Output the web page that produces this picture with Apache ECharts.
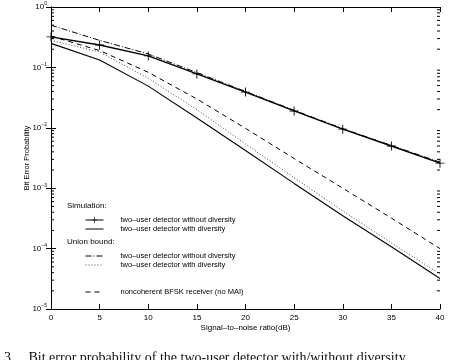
<!DOCTYPE html>
<html>
<head>
<meta charset="utf-8">
<script src="https://cdn.jsdelivr.net/npm/echarts@6/dist/echarts.min.js"></script>
<style>html,body{margin:0;padding:0;background:#fff;}#c{width:474px;height:360px;}</style>
</head>
<body>
<div id="c"></div>
<script>
// ---- data ----
var snr = [0, 5, 10, 15, 20, 25, 30, 35, 40];
var simNoDiv = [0.32, 0.235, 0.155, 0.078, 0.039, 0.019, 0.0095, 0.005, 0.0026];
var simDiv = [0.25, 0.133, 0.049, 0.0145, 0.0042, 0.0012, 0.00035, 0.000107, 0.000032];
var ubNoDiv = [0.50, 0.28, 0.167, 0.082, 0.040, 0.0195, 0.0097, 0.0051, 0.0027];
var ubDiv = [0.28, 0.18, 0.066, 0.020, 0.0054, 0.0015, 0.00042, 0.000124, 0.000038];
var bfsk = [0.33, 0.19, 0.083, 0.030, 0.0098, 0.0031, 0.001, 0.00032, 0.0001];
var yMinorTicks = [];
[1e-5, 1e-4, 1e-3, 1e-2, 1e-1].forEach(function (d) {
  for (var k = 2; k <= 9; k++) yMinorTicks.push(+(d * k).toPrecision(3));
});
var legendNames = {
  simNoDiv: 'two\u2013user detector without diversity',
  simDiv: 'two\u2013user detector with diversity',
  ubNoDiv: 'two\u2013user detector without diversity',
  ubDiv: 'two\u2013user detector with diversity',
  bfsk: 'noncoherent BFSK receiver (no MAI)'
};

function pairs(ys) { return snr.map(function (x, i) { return [x, ys[i]]; }); }

var FONT = 'Liberation Sans';
var chart = echarts.init(document.getElementById('c'), null, { renderer: 'canvas' });

var yAxisCommon = {
  type: 'log', logBase: 10, min: 1e-5, max: 1,
  axisLine: { show: true, lineStyle: { color: '#000', width: 1 } },
  axisTick: { show: true, inside: true, length: 5, lineStyle: { color: '#000' } },
  splitLine: { show: false },
  minorTick: { show: false }
};
var xAxisCommon = {
  type: 'value', min: 0, max: 40, interval: 5,
  axisLine: { show: true, onZero: false, lineStyle: { color: '#000', width: 1 } },
  axisTick: { show: true, inside: true, length: 5, lineStyle: { color: '#000' } },
  splitLine: { show: false }
};

var legendCommon = {
  orient: 'vertical', left: 80, itemWidth: 18, itemHeight: 8, itemGap: 1,
  lineStyle: { width: 1 },
  textStyle: { fontFamily: FONT, fontSize: 7.5, color: '#000', padding: [0, 0, 0, 12] },
  formatter: function (n) { return legendNames[n]; },
  selectedMode: false
};
var hideSym = { color: 'rgba(0,0,0,0)', borderWidth: 0, borderColor: 'rgba(0,0,0,0)' };

var option = {
  backgroundColor: '#fff',
  animation: false,
  grid: { left: 51, right: 34, top: 7, bottom: 51, containLabel: false },
  xAxis: [
    Object.assign({}, xAxisCommon, {
      position: 'bottom',
      name: 'Signal\u2013to\u2013noise ratio(dB)', nameLocation: 'middle', nameGap: 15,
      nameMoveOverlap: false,
      nameTextStyle: { fontFamily: FONT, fontSize: 8, color: '#000' },
      axisLabel: { fontFamily: FONT, fontSize: 8, color: '#000', margin: 5 }
    }),
    Object.assign({}, xAxisCommon, { position: 'top', axisLabel: { show: false } })
  ],
  yAxis: [
    Object.assign({}, yAxisCommon, {
      position: 'left',
      name: 'Bit Error Probability', nameLocation: 'middle', nameGap: 20,
      nameMoveOverlap: false,
      nameTextStyle: { fontFamily: FONT, fontSize: 7.5, color: '#000' },
      axisLabel: {
        fontFamily: FONT, color: '#000', margin: 4,
        formatter: function (v) {
          var e = Math.round(Math.log10(v));
          return '{b|10}{s|' + (e === 0 ? '0' : '\u2212' + (-e)) + '}';
        },
        rich: {
          b: { fontSize: 8, fontFamily: FONT, color: '#000' },
          s: { fontSize: 5, fontFamily: FONT, color: '#000', verticalAlign: 'bottom', padding: [0, 0, 6, 0] }
        }
      }
    }),
    Object.assign({}, yAxisCommon, { position: 'right', axisLabel: { show: false } })
  ],
  legend: [
    Object.assign({}, legendCommon, { top: 211, data: [{ name: 'simNoDiv' }, { name: 'simDiv', itemStyle: hideSym }] }),
    Object.assign({}, legendCommon, { top: 247, data: [{ name: 'ubNoDiv', itemStyle: hideSym }, { name: 'ubDiv', itemStyle: hideSym }] }),
    Object.assign({}, legendCommon, { top: 283, data: [{ name: 'bfsk', itemStyle: hideSym }] })
  ],
  graphic: [
    { type: 'text', left: 67, top: 202, style: { text: 'Simulation:', font: '8px "Liberation Sans"', fill: '#000' } },
    { type: 'text', left: 67, top: 238, style: { text: 'Union bound:', font: '8px "Liberation Sans"', fill: '#000' } },
    { type: 'text', left: 4, top: 351, style: { text: '3.    Bit error probability of the two-user detector with/without diversity', font: '14px "Liberation Serif"', fill: '#111' } }
  ],
  series: [
    {
      name: 'simNoDiv', type: 'line', data: pairs(simNoDiv),
      symbol: 'path://M0 4.5H10V5.5H0Z M4.5 0H5.5V10H4.5Z', symbolSize: 9, showSymbol: true,
      itemStyle: { color: '#000' },
      lineStyle: { color: '#000', width: 1.4 }, z: 5
    },
    {
      name: 'simDiv', type: 'line', data: pairs(simDiv), symbol: 'circle', showSymbol: false,
      itemStyle: { color: '#000' }, lineStyle: { color: '#000', width: 1.1 }, z: 5
    },
    {
      name: 'ubNoDiv', type: 'line', data: pairs(ubNoDiv), symbol: 'circle', showSymbol: false,
      itemStyle: { color: '#000' }, lineStyle: { color: '#000', width: 1, type: [6, 2, 1, 2] }, z: 4
    },
    {
      name: 'ubDiv', type: 'line', data: pairs(ubDiv), symbol: 'circle', showSymbol: false,
      itemStyle: { color: '#000' }, lineStyle: { color: '#444', width: 1, type: [1, 2] }, z: 4
    },
    {
      name: 'bfsk', type: 'line', data: pairs(bfsk), symbol: 'circle', showSymbol: false,
      itemStyle: { color: '#000' }, lineStyle: { color: '#000', width: 1, type: [5, 4] }, z: 4
    },
    {
      name: 'minorTicks', type: 'custom', silent: true, z: 6, clip: false,
      data: yMinorTicks.map(function (v) { return [0, v]; }),
      renderItem: function (params, api) {
        var l = api.coord([0, api.value(1)]);
        var r = api.coord([40, api.value(1)]);
        var st = { stroke: '#000', lineWidth: 1 };
        return { type: 'group', children: [
          { type: 'line', shape: { x1: l[0], y1: l[1], x2: l[0] + 3, y2: l[1] }, style: st },
          { type: 'line', shape: { x1: r[0], y1: r[1], x2: r[0] - 3, y2: r[1] }, style: st }
        ] };
      }
    }
  ]
};
chart.setOption(option);
</script>
</body>
</html>
